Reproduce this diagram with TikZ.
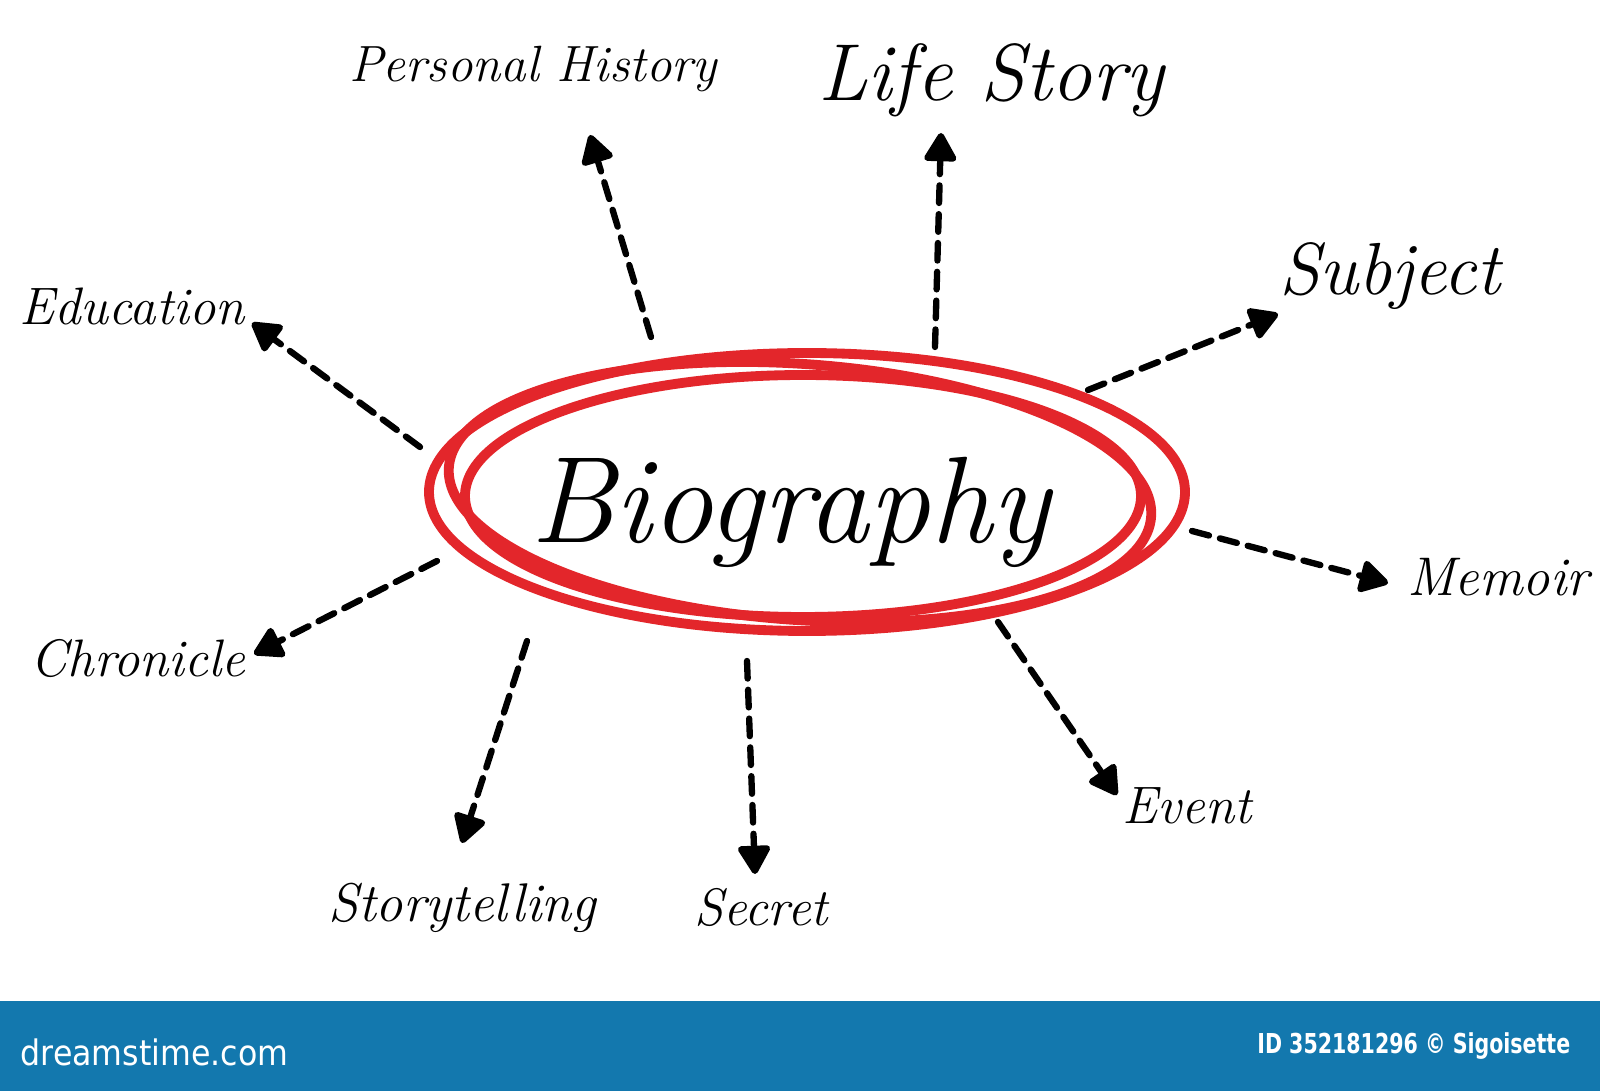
\documentclass[tikz,border=0pt]{standalone}
\usepackage{fontspec}
\newfontfamily\barfont{DejaVu Sans Condensed}
\newfontfamily\idfont{DejaVu Sans Condensed}[BoldFont={DejaVu Sans Condensed Bold}]
\usetikzlibrary{arrows.meta}
\definecolor{ringred}{HTML}{E3262B}
\definecolor{barblue}{HTML}{1378AE}
\tikzset{
  lbl/.style={font=\itshape, inner sep=0pt, text=black},
  dasharrow/.style={draw=black, line width=1.8pt, dash pattern=on 5pt off 3.2pt, line cap=round,
     -{Triangle[length=9pt,width=10pt,round]}},
  ring/.style={draw=ringred, line width=2.8pt}
}
\begin{document}
\begin{tikzpicture}[x=0.1mm,y=-0.1mm]
\useasboundingbox (0,0) rectangle (1600,1091);
\fill[white] (0,0) rectangle (1600,1091);

% red rings
\draw[ring] (807,492) ellipse [x radius=378, y radius=139];
\draw[ring] (800,492) [rotate around={-4:(800,492)}] ellipse [x radius=352, y radius=128];
\draw[ring] (803,496) ellipse [x radius=338, y radius=121];

% central text
\node[lbl, font=\itshape\fontsize{35}{42}\selectfont] (bio) at (790,512) {Biography};

% labels
\node[lbl, font=\itshape\fontsize{14.5}{18}\selectfont] (ph) at (533,69) {Personal History};
\node[lbl, font=\itshape\fontsize{23}{28}\selectfont] (ls) at (991,80) {Life Story};
\node[lbl, font=\itshape\fontsize{21}{26}\selectfont] (sub) at (1390,276) {Subject};
\node[lbl, font=\itshape\fontsize{15.5}{19}\selectfont] (mem) at (1498,577) {Memoir};
\node[lbl, font=\itshape\fontsize{15}{18}\selectfont] (ev) at (1187,806) {Event};
\node[lbl, font=\itshape\fontsize{15}{18}\selectfont] (sec) at (761,908) {Secret};
\node[lbl, font=\itshape\fontsize{15.5}{19}\selectfont] (sto) at (462,908) {Storytelling};
\node[lbl, font=\itshape\fontsize{15}{19}\selectfont] (chr) at (138,658) {Chronicle};
\node[lbl, font=\itshape\fontsize{15}{19}\selectfont] (edu) at (132,306) {Education};

% arrow end points
\coordinate (phA) at (651,337);  \coordinate (phB) at (590,135);
\coordinate (lsA) at (935,347);  \coordinate (lsB) at (941,133);
\coordinate (subA) at (1088,390); \coordinate (subB) at (1278,314);
\coordinate (memA) at (1192,531); \coordinate (memB) at (1388,583);
\coordinate (evA) at (998,622);  \coordinate (evB) at (1117,795);
\coordinate (secA) at (747,661); \coordinate (secB) at (755,874);
\coordinate (stoA) at (527,641); \coordinate (stoB) at (462,843);
\coordinate (chrA) at (437,561); \coordinate (chrB) at (254,654);
\coordinate (eduA) at (420,447); \coordinate (eduB) at (252,323);

\draw[dasharrow] (phA) -- (phB);
\draw[dasharrow] (lsA) -- (lsB);
\draw[dasharrow] (subA) -- (subB);
\draw[dasharrow] (memA) -- (memB);
\draw[dasharrow] (evA) -- (evB);
\draw[dasharrow] (secA) -- (secB);
\draw[dasharrow] (stoA) -- (stoB);
\draw[dasharrow] (chrA) -- (chrB);
\draw[dasharrow] (eduA) -- (eduB);

% bottom bar
\fill[barblue] (0,1001) rectangle (1600,1091);
\node[anchor=west, text=white, inner sep=0pt, font=\barfont\fontsize{10}{12}\selectfont] (ds) at (20,1052) {dreamstime.com};
\node[anchor=east, text=white, inner sep=0pt, font=\idfont\bfseries\fontsize{6.5}{8}\selectfont] (id) at (1571,1046) {\scalebox{1}[1.2]{ID 352181296 © Sigoisette}};
\end{tikzpicture}
\end{document}
